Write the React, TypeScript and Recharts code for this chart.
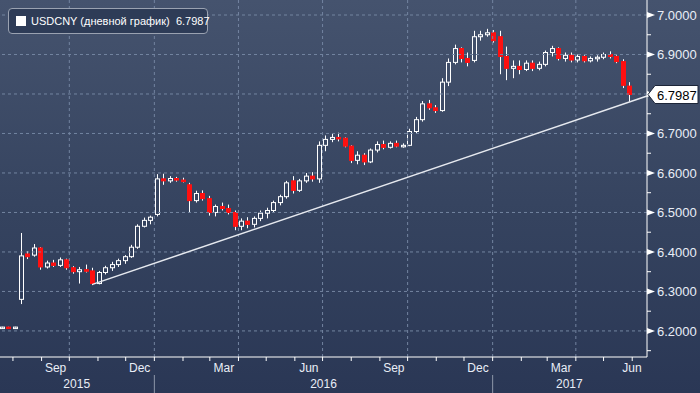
import React from 'react';
import { ComposedChart, Bar, XAxis, YAxis, ReferenceLine } from 'recharts';

// weekly candles
const weekStarts = [
  '2015-07-20', '2015-07-27', '2015-08-03', '2015-08-10', '2015-08-17', '2015-08-24', '2015-08-31', '2015-09-07', '2015-09-14', '2015-09-21',
  '2015-09-28', '2015-10-05', '2015-10-12', '2015-10-19', '2015-10-26', '2015-11-02', '2015-11-09', '2015-11-16', '2015-11-23', '2015-11-30',
  '2015-12-07', '2015-12-14', '2015-12-21', '2015-12-28', '2016-01-04', '2016-01-11', '2016-01-18', '2016-01-25', '2016-02-01', '2016-02-08',
  '2016-02-15', '2016-02-22', '2016-02-29', '2016-03-07', '2016-03-14', '2016-03-21', '2016-03-28', '2016-04-04', '2016-04-11', '2016-04-18',
  '2016-04-25', '2016-05-02', '2016-05-09', '2016-05-16', '2016-05-23', '2016-05-30', '2016-06-06', '2016-06-13', '2016-06-20', '2016-06-27',
  '2016-07-04', '2016-07-11', '2016-07-18', '2016-07-25', '2016-08-01', '2016-08-08', '2016-08-15', '2016-08-22', '2016-08-29', '2016-09-05',
  '2016-09-12', '2016-09-19', '2016-09-26', '2016-10-03', '2016-10-10', '2016-10-17', '2016-10-24', '2016-10-31', '2016-11-07', '2016-11-14',
  '2016-11-21', '2016-11-28', '2016-12-05', '2016-12-12', '2016-12-19', '2016-12-26', '2017-01-02', '2017-01-09', '2017-01-16', '2017-01-23',
  '2017-01-30', '2017-02-06', '2017-02-13', '2017-02-20', '2017-02-27', '2017-03-06', '2017-03-13', '2017-03-20', '2017-03-27', '2017-04-03',
  '2017-04-10', '2017-04-17', '2017-04-24', '2017-05-01', '2017-05-08', '2017-05-15', '2017-05-22', '2017-05-29',
];

const opens = [
  6.2095, 6.2097, 6.2092, 6.2800, 6.3950, 6.3920, 6.4100, 6.3620, 6.3720, 6.3660,
  6.3800, 6.3600, 6.3500, 6.3550, 6.3520, 6.3200, 6.3480, 6.3600, 6.3680, 6.3780,
  6.3880, 6.4120, 6.4650, 6.4800, 6.4950, 6.5850, 6.5800, 6.5860, 6.5820, 6.5700,
  6.5300, 6.5480, 6.5350, 6.5000, 6.5150, 6.5100, 6.5000, 6.4650, 6.4780, 6.4700,
  6.4850, 6.4980, 6.5050, 6.5250, 6.5400, 6.5800, 6.5560, 6.5800, 6.5920, 6.5850,
  6.6700, 6.6850, 6.6900, 6.6880, 6.6680, 6.6320, 6.6450, 6.6280, 6.6580, 6.6720,
  6.6650, 6.6750, 6.6680, 6.6700, 6.7050, 6.7350, 6.7750, 6.7650, 6.7580, 6.8300,
  6.8800, 6.9150, 6.8900, 6.8850, 6.9450, 6.9500, 6.9550, 6.9450, 6.8950, 6.8650,
  6.8700, 6.8620, 6.8780, 6.8650, 6.8750, 6.9050, 6.9150, 6.8900, 6.8980, 6.8860,
  6.8950, 6.8840, 6.8900, 6.8930, 6.9000, 6.8950, 6.8820, 6.8200,
];
const highs = [
  6.2105, 6.2105, 6.2105, 6.4480, 6.4020, 6.4200, 6.4120, 6.3780, 6.3800, 6.3860,
  6.3830, 6.3640, 6.3620, 6.3680, 6.3600, 6.3520, 6.3650, 6.3750, 6.3830, 6.3920,
  6.4180, 6.4700, 6.4870, 6.4920, 6.5970, 6.5980, 6.5920, 6.5900, 6.5880, 6.5750,
  6.5550, 6.5560, 6.5420, 6.5200, 6.5250, 6.5200, 6.5050, 6.4850, 6.4880, 6.4900,
  6.5050, 6.5120, 6.5300, 6.5450, 6.5800, 6.5920, 6.5850, 6.6000, 6.6020, 6.6800,
  6.6950, 6.7000, 6.7020, 6.6900, 6.6700, 6.6550, 6.6500, 6.6620, 6.6800, 6.6820,
  6.6800, 6.6820, 6.6750, 6.7120, 6.7420, 6.7820, 6.7850, 6.7720, 6.8400, 6.8900,
  6.9250, 6.9180, 6.9050, 6.9600, 6.9600, 6.9650, 6.9620, 6.9600, 6.9200, 6.8850,
  6.8850, 6.8850, 6.8850, 6.8820, 6.9100, 6.9220, 6.9180, 6.9050, 6.9050, 6.9000,
  6.8980, 6.8950, 6.8980, 6.9050, 6.9080, 6.8980, 6.8880, 6.8300,
];
const lows = [
  6.2090, 6.2085, 6.2088, 6.2680, 6.3820, 6.3880, 6.3550, 6.3580, 6.3620, 6.3620,
  6.3550, 6.3450, 6.3200, 6.3480, 6.3160, 6.3180, 6.3430, 6.3520, 6.3620, 6.3700,
  6.3850, 6.4080, 6.4620, 6.4700, 6.4900, 6.5700, 6.5750, 6.5780, 6.5760, 6.5000,
  6.5250, 6.5300, 6.4920, 6.4900, 6.5050, 6.4950, 6.4550, 6.4550, 6.4600, 6.4620,
  6.4780, 6.4850, 6.5000, 6.5180, 6.5350, 6.5480, 6.5520, 6.5750, 6.5780, 6.5750,
  6.6550, 6.6780, 6.6800, 6.6650, 6.6250, 6.6220, 6.6200, 6.6250, 6.6520, 6.6600,
  6.6620, 6.6650, 6.6640, 6.6680, 6.7000, 6.7300, 6.7600, 6.7520, 6.7550, 6.8200,
  6.8750, 6.8800, 6.8700, 6.8800, 6.9350, 6.9450, 6.9300, 6.8500, 6.8350, 6.8400,
  6.8500, 6.8580, 6.8580, 6.8600, 6.8700, 6.8950, 6.8850, 6.8820, 6.8800, 6.8800,
  6.8800, 6.8800, 6.8820, 6.8880, 6.8900, 6.8780, 6.8150, 6.7800,
];
const closes = [
  6.2097, 6.2092, 6.2097, 6.3900, 6.3880, 6.4100, 6.3620, 6.3720, 6.3660, 6.3800,
  6.3600, 6.3500, 6.3550, 6.3520, 6.3200, 6.3480, 6.3600, 6.3680, 6.3780, 6.3880,
  6.4120, 6.4650, 6.4800, 6.4880, 6.5850, 6.5800, 6.5860, 6.5820, 6.5800, 6.5300,
  6.5480, 6.5350, 6.5000, 6.5150, 6.5100, 6.5000, 6.4650, 6.4780, 6.4700, 6.4850,
  6.4980, 6.5050, 6.5250, 6.5400, 6.5750, 6.5560, 6.5800, 6.5920, 6.5850, 6.6700,
  6.6850, 6.6900, 6.6880, 6.6680, 6.6320, 6.6450, 6.6280, 6.6580, 6.6720, 6.6650,
  6.6750, 6.6680, 6.6700, 6.7050, 6.7350, 6.7750, 6.7650, 6.7580, 6.8300, 6.8800,
  6.9150, 6.8900, 6.8800, 6.9450, 6.9500, 6.9550, 6.9350, 6.8950, 6.8650, 6.8700,
  6.8620, 6.8780, 6.8650, 6.8750, 6.9050, 6.9150, 6.8900, 6.8980, 6.8860, 6.8950,
  6.8840, 6.8900, 6.8930, 6.9000, 6.8950, 6.8820, 6.8220, 6.7987,
];

const lastPrice = 6.7987;
const seriesName = 'USDCNY (дневной график)';

const xDomain = ['2015-07-18', '2017-06-17'];
const monthStarts = [
  '2015-08-01', '2015-09-01', '2015-10-01', '2015-11-01', '2015-12-01',
  '2016-01-01', '2016-02-01', '2016-03-01', '2016-04-01', '2016-05-01', '2016-06-01',
  '2016-07-01', '2016-08-01', '2016-09-01', '2016-10-01', '2016-11-01', '2016-12-01',
  '2017-01-01', '2017-02-01', '2017-03-01', '2017-04-01', '2017-05-01', '2017-06-01',
];
const monthLabels: Record<string, string> = {
  '2015-09-01': 'Sep', '2015-12-01': 'Dec', '2016-03-01': 'Mar', '2016-06-01': 'Jun',
  '2016-09-01': 'Sep', '2016-12-01': 'Dec', '2017-03-01': 'Mar', '2017-06-01': 'Jun',
};
const yearLabels = [
  { date: '2015-10-09', label: '2015' },
  { date: '2016-07-02', label: '2016' },
  { date: '2017-03-25', label: '2017' },
];
const yearBreaks = ['2016-01-01', '2017-01-01'];
const quarterLines = ['2015-10-01', '2016-01-01', '2016-04-01', '2016-07-01', '2016-10-01', '2017-01-01', '2017-04-01'];

const yDomain = [6.134, 7.038];
const majorTicks = [6.2, 6.3, 6.4, 6.5, 6.6, 6.7, 6.8, 6.9, 7.0];
const minorTicks = [6.15, 6.25, 6.35, 6.45, 6.55, 6.65, 6.75, 6.85, 6.95];

const trendStart = { date: '2015-10-26', value: 6.318 };
const trendEnd = { date: '2017-06-17', value: 6.795 };

const TEXT = '#e9eef7';
const GRID = '#7384a0';
const UP = '#ffffff';
const DOWN = '#ff1010';
const FONT = '"Liberation Sans", Arial, sans-serif';
const PLOT_RIGHT = 647;

const toTime = (s: string) => Date.parse(s);
const iso = (t: number) => new Date(t).toISOString().slice(0, 10);

const data = weekStarts.map((d, i) => ({
  t: toTime(d),
  open: opens[i],
  high: highs[i],
  low: lows[i],
  close: closes[i],
  range: [lows[i], highs[i]],
}));

const xTicks = [...monthStarts, ...yearLabels.map((y) => y.date)].map(toTime).sort((a, b) => a - b);
const yTicks = [...minorTicks, ...majorTicks, lastPrice];

function Candle(props: any) {
  const { x, y, width, height, payload } = props;
  if (!payload || !(height > 0)) return null;
  const { open, close, high, low } = payload;
  const ppu = height / (high - low);
  const yO = y + (high - open) * ppu;
  const yC = y + (high - close) * ppu;
  const up = close >= open;
  const cx = Math.round(x + width / 2) + 0.5;
  const top = Math.min(yO, yC);
  const bottom = Math.max(yO, yC);
  const bh = Math.max(bottom - top, 1.5);
  return (
    <g>
      <line x1={cx} x2={cx} y1={y} y2={top} stroke="#fff" strokeWidth={1} />
      <line x1={cx} x2={cx} y1={top + bh} y2={y + height} stroke="#fff" strokeWidth={1} />
      <rect
        x={cx - 2}
        y={top}
        width={4}
        height={bh}
        fill={up ? 'none' : DOWN}
        stroke={up ? UP : DOWN}
        strokeWidth={1}
      />
    </g>
  );
}

function XTick(props: any) {
  const { x, y, payload } = props;
  const key = iso(payload.value);
  const year = yearLabels.find((l) => l.date === key);
  if (year) {
    return (
      <text x={x} y={y + 31} textAnchor="middle" fill={TEXT} fontSize={12} fontFamily={FONT}>
        {year.label}
      </text>
    );
  }
  const label = monthLabels[key];
  return (
    <g>
      <line x1={x} x2={x} y1={y} y2={y + 4} stroke="#fff" />
      {yearBreaks.includes(key) && <line x1={x} x2={x} y1={y + 18} y2={y + 36} stroke="#8d97a8" />}
      {label && (
        <text x={Math.min(x + 14, PLOT_RIGHT - 15)} y={y + 15} textAnchor="middle" fill={TEXT} fontSize={12} fontFamily={FONT}>
          {label}
        </text>
      )}
    </g>
  );
}

function YTick(props: any) {
  const { x, y, payload } = props;
  const v = payload.value;
  if (v === lastPrice) {
    return (
      <g>
        <polygon
          points={`${x + 1},${y} ${x + 8},${y - 9} ${x + 51},${y - 9} ${x + 51},${y + 9} ${x + 8},${y + 9}`}
          fill="#ffffff"
          stroke="#1c2538"
        />
        <text x={x + 10} y={y + 5} fill="#000" fontSize={13} fontFamily={FONT}>
          {v.toFixed(4)}
        </text>
      </g>
    );
  }
  if (minorTicks.includes(v)) {
    return <line x1={x} x2={x + 4} y1={y} y2={y} stroke="#fff" />;
  }
  return (
    <g>
      <polygon points={`${x},${y - 3} ${x + 8},${y} ${x},${y + 3}`} fill="#fff" />
      <text x={x + 10} y={y + 5} fill={TEXT} fontSize={13} fontFamily={FONT}>
        {v.toFixed(4)}
      </text>
    </g>
  );
}

export default function App() {
  return (
    <div
      style={{
        position: 'absolute',
        left: 0,
        top: 0,
        width: 700,
        height: 393,
        background: 'linear-gradient(180deg, #45536e 0%, #35435f 55%, #2a3755 100%)',
        fontFamily: FONT,
        overflow: 'hidden',
      }}
    >
      <ComposedChart width={700} height={393} data={data} margin={{ top: 0, right: 0, bottom: 0, left: 0 }}>
        <XAxis
          dataKey="t"
          type="number"
          domain={xDomain.map(toTime)}
          allowDataOverflow
          ticks={xTicks}
          interval={0}
          tick={<XTick />}
          tickLine={false}
          tickSize={0}
          tickMargin={0}
          height={36}
          axisLine={{ stroke: '#ffffff' }}
        />
        <YAxis
          orientation="right"
          type="number"
          domain={yDomain}
          allowDataOverflow
          ticks={yTicks}
          interval={0}
          tick={<YTick />}
          tickLine={false}
          tickSize={0}
          tickMargin={0}
          width={53}
          axisLine={{ stroke: '#ffffff' }}
        />
        {majorTicks.map((v) => (
          <ReferenceLine key={'h' + v} y={v} stroke={GRID} strokeDasharray="3 3" />
        ))}
        {quarterLines.map((d) => (
          <ReferenceLine key={'v' + d} x={toTime(d)} stroke={GRID} strokeDasharray="3 3" />
        ))}
        <Bar dataKey="range" barSize={4} shape={<Candle />} isAnimationActive={false} />
        <ReferenceLine
          segment={[
            { x: toTime(trendStart.date), y: trendStart.value },
            { x: toTime(trendEnd.date), y: trendEnd.value },
          ]}
          stroke="#e6e9ef"
          strokeWidth={1.5}
          ifOverflow="extendDomain"
        />
      </ComposedChart>
      <div
        style={{
          position: 'absolute',
          left: 8,
          top: 8,
          width: 200,
          height: 26,
          boxSizing: 'border-box',
          border: '1px solid #9aa2b1',
          borderRadius: 4,
          background: '#2e3c57',
          color: '#ffffff',
          fontSize: 11,
          lineHeight: '24px',
          whiteSpace: 'nowrap',
        }}
      >
        <span
          style={{
            position: 'absolute',
            left: 7,
            top: 7,
            width: 10,
            height: 10,
            background: '#ffffff',
          }}
        />
        <span style={{ position: 'absolute', left: 22, top: 0 }}>
          {seriesName}&nbsp;&nbsp;{lastPrice.toFixed(4)}
        </span>
      </div>
    </div>
  );
}
